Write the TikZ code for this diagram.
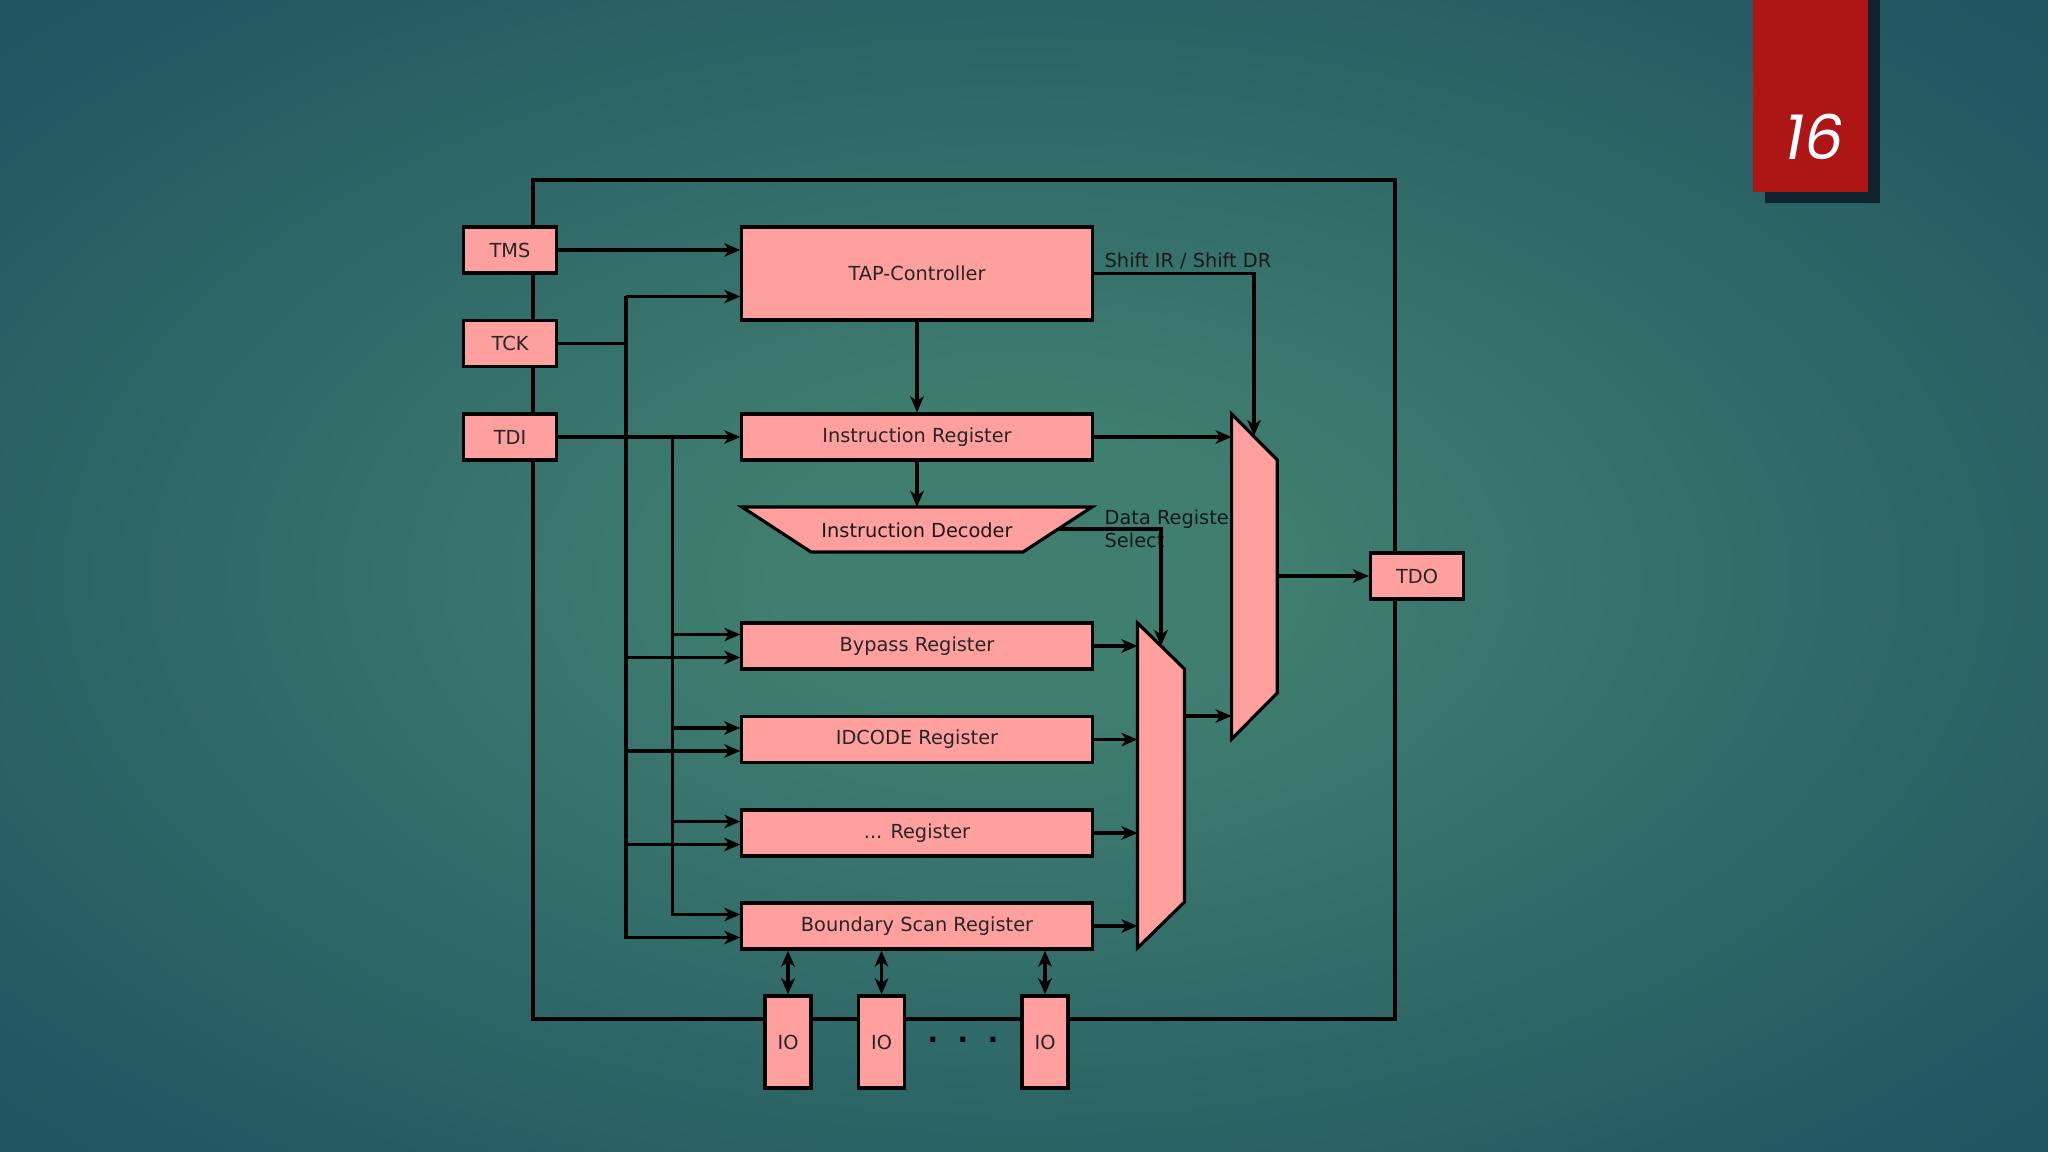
\documentclass[tikz,border=0pt]{standalone}
\usepackage{fontspec}
\setmainfont{DejaVu Sans}
\newfontfamily\slidenumfont[FakeSlant=0.18]{Poppins}
\usetikzlibrary{arrows.meta, positioning, calc}

\definecolor{bgmid}{RGB}{64,126,112}
\definecolor{bgsoft}{RGB}{34,88,97}
\definecolor{bgedge}{RGB}{21,56,74}
\definecolor{boxfill}{RGB}{255,160,158}
\definecolor{slidered}{RGB}{174,22,22}
\definecolor{slideshadow}{RGB}{14,36,46}
\pgfdeclareradialshading{slideglow}{\pgfpoint{0bp}{0bp}}{%
  color(0bp)=(bgmid); color(6bp)=(bgmid); color(32bp)=(bgsoft); color(66bp)=(bgedge)}

\begin{document}
\begin{tikzpicture}[
  x=0.01cm, y=-0.01cm,
  portbox/.style = {draw=black, fill=boxfill, line width=0.9pt,
                    minimum width=0.93cm, minimum height=0.46cm,
                    inner sep=0pt, text=black!85,
                    font=\fontsize{5.5}{6.5}\selectfont},
  regbox/.style  = {portbox, minimum width=3.5cm},
  iobox/.style   = {portbox, minimum width=0.46cm, minimum height=0.92cm},
  shape_line/.style = {draw=black, fill=boxfill, line width=0.9pt, line join=miter},
  arr/.style     = {-{Stealth[length=1.6mm, width=1.35mm, inset=0.45mm]}, line width=0.9pt},
  arrB/.style    = {{Stealth[length=1.6mm, width=1.35mm, inset=0.45mm]}-{Stealth[length=1.6mm, width=1.35mm, inset=0.45mm]}, line width=0.9pt},
  wire/.style    = {line width=0.9pt},
  lbl/.style     = {font=\fontsize{5.5}{6.7}\selectfont, text=black!90,
                    align=left, inner sep=0pt}
]

%── Hintergrund ───────────────────────────────────────────────────────────
\shade[shading=slideglow] (0,0) rectangle (2048,1152);
\fill[slideshadow] (1765,0) rectangle (1880,203);
\fill[slidered] (1753,0) rectangle (1868,192);
\node[text=white, font=\slidenumfont\fontsize{17.5}{20}\selectfont] (slide_no) at (1811,137) {16};

%── Rahmen (Chip) ─────────────────────────────────────────────────────────
\draw[wire] (533,180) rectangle (1395,1019);

%── Pins links ────────────────────────────────────────────────────────────
\node[portbox] (tms) at (510,250)   {TMS};
\node[portbox] (tck) at (510,343.5) {TCK};
\node[portbox] (tdi) at (510,437)   {TDI};

%── TAP + Instruktionspfad ────────────────────────────────────────────────
\node[regbox, minimum height=0.93cm] (tap_ctrl) at (917,273.5) {TAP-Controller};
\node[regbox] (instr_reg) at (917,437) {Instruction Register};

\draw[shape_line] (742,507) -- (1092,507) -- (1023,552) -- (811,552) -- cycle;
\node[lbl] (instr_dec) at (917,530) {Instruction Decoder};

%── Datenregister ─────────────────────────────────────────────────────────
\node[regbox] (bypass_reg) at (917,646)   {Bypass Register};
\node[regbox] (idcode_reg) at (917,739.5) {IDCODE Register};
\node[regbox] (misc_reg)   at (917,833)   {... Register};
\node[regbox] (bsr_reg)    at (917,926)   {Boundary Scan Register};

%── Beschriftungen ────────────────────────────────────────────────────────
\node[lbl, anchor=west] (shift_lbl) at (1104,261) {Shift IR / Shift DR};
\node[lbl, anchor=west] (sel_lbl)   at (1104,529) {Data Register\\Select};

%── Multiplexer ───────────────────────────────────────────────────────────
\draw[shape_line] (1137.5,623) -- (1184.5,669) -- (1184.5,902) -- (1137.5,948) -- cycle;
\draw[shape_line] (1231.6,414) -- (1277.3,460) -- (1277.3,693) -- (1231.6,739) -- cycle;
\coordinate (mux_dr_in)  at (1137.5,646);
\coordinate (mux_dr_sel) at (1161,646);
\coordinate (mux_dr_out) at (1184.5,716);
\coordinate (mux_out_in) at (1231.6,437);
\coordinate (mux_out_sel) at (1254,436);
\coordinate (mux_out_out) at (1277.3,576);
\coordinate (dec_out) at (1058,529);

%── TDO + IO ──────────────────────────────────────────────────────────────
\node[portbox] (tdo) at (1417,576) {TDO};

\node[iobox] (io_a) at (788,1042)    {IO};
\node[iobox] (io_b) at (881.5,1042)  {IO};
\node[iobox] (io_c) at (1045,1042)   {IO};
\node[font=\fontsize{8}{8}\selectfont\bfseries, inner sep=0pt] (io_dots) at (963,1040) {.\hspace{5.5pt}.\hspace{5.5pt}.};

%── Verbindungen ──────────────────────────────────────────────────────────
\draw[arr] (tms.east) -- (tms.east -| tap_ctrl.west);

% TCK-Bus
\draw[wire] (tck.east) -- (626,343.5);
\draw[wire] (626,296.5) -- (626,937.5);
\draw[arr] (626,296.5) -- (tap_ctrl.west |- 626,296.5);
\foreach \r in {bypass_reg, idcode_reg, misc_reg, bsr_reg}
  \draw[arr] ($(\r.west)+(-116,11.5)$) -- ($(\r.west)+(0,11.5)$);

% TDI-Bus
\draw[arr] (tdi.east) -- (instr_reg.west);
\draw[wire] (672.6,437) -- (672.6,914.5);
\foreach \r in {bypass_reg, idcode_reg, misc_reg, bsr_reg}
  \draw[arr] ($(\r.west)+(-69.4,-11.5)$) -- ($(\r.west)+(0,-11.5)$);

\draw[arr] (tap_ctrl.south) -- (instr_reg.north);
\draw[arr] (instr_reg.south) -- (917,507);

\draw[arr] (tap_ctrl.east) -| (mux_out_sel);
\draw[arr] (dec_out) -| (mux_dr_sel);

\draw[arr] (instr_reg.east) -- (mux_out_in);
\foreach \r in {bypass_reg, idcode_reg, misc_reg, bsr_reg}
  \draw[arr] (\r.east) -- (\r.east -| mux_dr_in);
\draw[arr] (mux_dr_out) -- (mux_dr_out -| mux_out_in);
\draw[arr] (mux_out_out) -- (tdo.west);

\foreach \p in {io_a, io_b, io_c}
  \draw[arrB] (\p.north) -- (\p.north |- bsr_reg.south);

\end{tikzpicture}
\end{document}
